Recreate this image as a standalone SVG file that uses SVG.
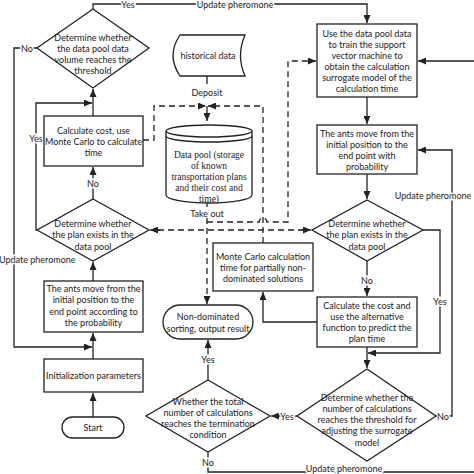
<svg xmlns="http://www.w3.org/2000/svg" width="474" height="474" viewBox="0 0 474 474">
<style>
.s{fill:#fff;stroke:#222;stroke-width:1.3}
.c{fill:none;stroke:#222;stroke-width:1.3}
.d{fill:none;stroke:#222;stroke-width:1.3;stroke-dasharray:6 4}
text{font-family:Lato,"Liberation Sans",Arial,sans-serif;font-size:9px;fill:#222;text-anchor:middle}
.serif{font-family:"Liberation Serif","Times New Roman",serif;font-size:9.5px}
.h{stroke:#fff;stroke-width:3;paint-order:stroke}
</style>
<defs>
<marker id="a" markerUnits="userSpaceOnUse" markerWidth="8" markerHeight="7" refX="8" refY="3.5" orient="auto"><path d="M0,0 L8,3.5 L0,7 z" fill="#222"/></marker>
</defs>
<rect width="474" height="474" fill="#fff"/>
<g id="connectors">
<path class="c" d="M93,9 V4 H367 V23" marker-end="url(#a)"/>
<path class="c" d="M37,48 H14 V347 H92" marker-end="url(#a)"/>
<path class="c" d="M93,116 V89" marker-end="url(#a)"/>
<path class="c" d="M37,230 H36 V103 H92" marker-end="url(#a)"/>
<path class="c" d="M93,199 V167" marker-end="url(#a)"/>
<path class="c" d="M93,281 V262" marker-end="url(#a)"/>
<path class="c" d="M93,359 V333" marker-end="url(#a)"/>
<path class="c" d="M93,417 V393" marker-end="url(#a)"/>
<path class="c" d="M474,61 H418" marker-end="url(#a)"/>
<path class="c" d="M367,97 V124" marker-end="url(#a)"/>
<path class="c" d="M367,174 V199" marker-end="url(#a)"/>
<path class="c" d="M367,261 V296" marker-end="url(#a)"/>
<path class="c" d="M423,230 H440 V353 H368" marker-end="url(#a)"/>
<path class="c" d="M367,347 V368" marker-end="url(#a)"/>
<path class="c" d="M436,416 H452 V150 H418" marker-end="url(#a)"/>
<path class="c" d="M297,416 H271" marker-end="url(#a)"/>
<path class="c" d="M208,380 V340" marker-end="url(#a)"/>
<path class="c" d="M208,452 V472 H474"/>
<path class="c" d="M317,322 H263 V292" marker-end="url(#a)"/>
<path class="c" d="M207,76 V84"/>
<path class="c" d="M207,203 V207"/>
<path class="d" d="M143,140 H154 V106 H206" marker-end="url(#a)"/>
<path class="d" d="M263,243 V106 H208" marker-end="url(#a)"/>
<path class="c" d="M207,106 V121" marker-end="url(#a)"/>
<path class="d" d="M207,218 V304" marker-end="url(#a)"/>
<path class="d" d="M207,222 H259 A4,4 0 0 1 267,222 H288 V61 H316" marker-end="url(#a)"/>
<path class="d" d="M158,230 H303"/>
<path class="c" d="M160,230 H150" marker-end="url(#a)"/>
<path class="c" d="M301,230 H311" marker-end="url(#a)"/>
<text class="h" x="128" y="7.5">Yes</text>
<text class="h" x="235" y="7.5">Update pheromone</text>
<text class="h" x="27" y="51.5">No</text>
<text class="h" x="-1" y="262.5" style="text-anchor:start">Update pheromone</text>
<text class="h" x="36" y="141.5">Yes</text>
<text class="h" x="93" y="186.5">No</text>
<text x="207" y="95.5">Deposit</text>
<text x="207" y="216.5">Take out</text>
<text class="h" x="367" y="283.5">No</text>
<text class="h" x="440" y="304.5">Yes</text>
<text class="h" x="433" y="198.5">Update pheromone</text>
<text class="h" x="443" y="419.5">No</text>
<text class="h" x="287" y="419.5">Yes</text>
<text class="h" x="208" y="362.5">Yes</text>
<text class="h" x="208" y="465.5">No</text>
<text class="h" x="344" y="472">Update pheromone</text>
</g>
<g id="d1">
<polygon class="s" points="93,9 149,48 93,88 37,48"/>
<text x="93" y="40.5">Determine whether</text>
<text x="93" y="51.5">the data pool data</text>
<text x="93" y="62.5">volume reaches the</text>
<text x="93" y="73.5">threshold</text>
</g>
<g id="calcMC">
<rect class="s" x="44" y="116" width="99" height="50"/>
<text x="93.5" y="133.5">Calculate cost, use</text>
<text x="93.5" y="144.5">Monte Carlo to calculate</text>
<text x="93.5" y="155.5">time</text>
</g>
<g id="d2">
<polygon class="s" points="93,199 149,230 93,261 37,230"/>
<text x="93" y="226.5">Determine whether</text>
<text x="93" y="237.5">the plan exists in the</text>
<text x="93" y="249.5">data pool</text>
</g>
<g id="antsL">
<rect class="s" x="44" y="281" width="99" height="51"/>
<text x="93.5" y="291.5">The ants move from the</text>
<text x="93.5" y="303">initial position to the</text>
<text x="93.5" y="314.5">end point according to</text>
<text x="93.5" y="326">the probability</text>
</g>
<g id="init">
<rect class="s" x="44" y="359" width="99" height="33"/>
<text x="93.5" y="379">Initialization parameters</text>
</g>
<g id="start">
<rect class="s" x="62" y="417" width="62" height="21" rx="10.5"/>
<text x="93" y="430.5">Start</text>
</g>
<g id="hist">
<path class="s" d="M180,35 H245 Q236,55.5 245,76 H180 Q166,55.5 180,35 Z"/>
<text x="208" y="58.5">historical data</text>
</g>
<g id="pool">
<path class="s" d="M166,131 V195 A43,8 0 0 0 252,195 V131 A43,6 0 0 0 166,131 Z"/>
<path class="c" d="M166,131 A43,6 0 0 0 252,131"/>
<path class="c" d="M166,136 A43,6 0 0 0 252,136"/>
<text class="serif" x="209" y="158">Data pool (storage</text>
<text class="serif" x="209" y="169">of known</text>
<text class="serif" x="209" y="180">transportation plans</text>
<text class="serif" x="209" y="191">and their cost and</text>
<text class="serif" x="209" y="202">time)</text>
</g>
<g id="mc">
<rect class="s" x="213" y="243" width="100" height="48"/>
<text x="263" y="260">Monte Carlo calculation</text>
<text x="263" y="270.5">time for partially non-</text>
<text x="263" y="281.5">dominated solutions</text>
</g>
<g id="nondom">
<rect class="s" x="163" y="305" width="90" height="34" rx="17"/>
<text x="208" y="320">Non-dominated</text>
<text x="208" y="331.5">sorting, output result</text>
</g>
<g id="d3">
<polygon class="s" points="208,380 270,416 208,452 146,416"/>
<text x="208" y="404.5">Whether the total</text>
<text x="208" y="415.5">number of calculations</text>
<text x="208" y="427">reaches the termination</text>
<text x="208" y="438">condition</text>
</g>
<g id="svm">
<rect class="s" x="317" y="24" width="100" height="73"/>
<text x="367" y="36.5">Use the data pool data</text>
<text x="367" y="47.5">to train the support</text>
<text x="367" y="58.5">vector machine to</text>
<text x="367" y="69.5">obtain the calculation</text>
<text x="367" y="80.5">surrogate model of the</text>
<text x="367" y="91.5">calculation time</text>
</g>
<g id="antsR">
<rect class="s" x="317" y="125" width="100" height="49"/>
<text x="367" y="136.5">The ants move from the</text>
<text x="367" y="147.5">initial position to the</text>
<text x="367" y="158.5">end point with</text>
<text x="367" y="169.5">probability</text>
</g>
<g id="d4">
<polygon class="s" points="367,200 423,230 367,261 312,230"/>
<text x="367" y="226.5">Determine whether</text>
<text x="367" y="237.5">the plan exists in the</text>
<text x="367" y="249.5">data pool</text>
</g>
<g id="calcR">
<rect class="s" x="317" y="297" width="100" height="50"/>
<text x="367" y="308.5">Calculate the cost and</text>
<text x="367" y="320">use the alternative</text>
<text x="367" y="331">function to predict the</text>
<text x="367" y="342">plan time</text>
</g>
<g id="d5">
<polygon class="s" points="367,369 436,416 367,461 297,416"/>
<text x="367" y="400.5">Determine whether the</text>
<text x="367" y="411.5">number of calculations</text>
<text x="367" y="422.5">reaches the threshold for</text>
<text x="367" y="434">adjusting the surrogate</text>
<text x="367" y="445.5">model</text>
</g>
</svg>
